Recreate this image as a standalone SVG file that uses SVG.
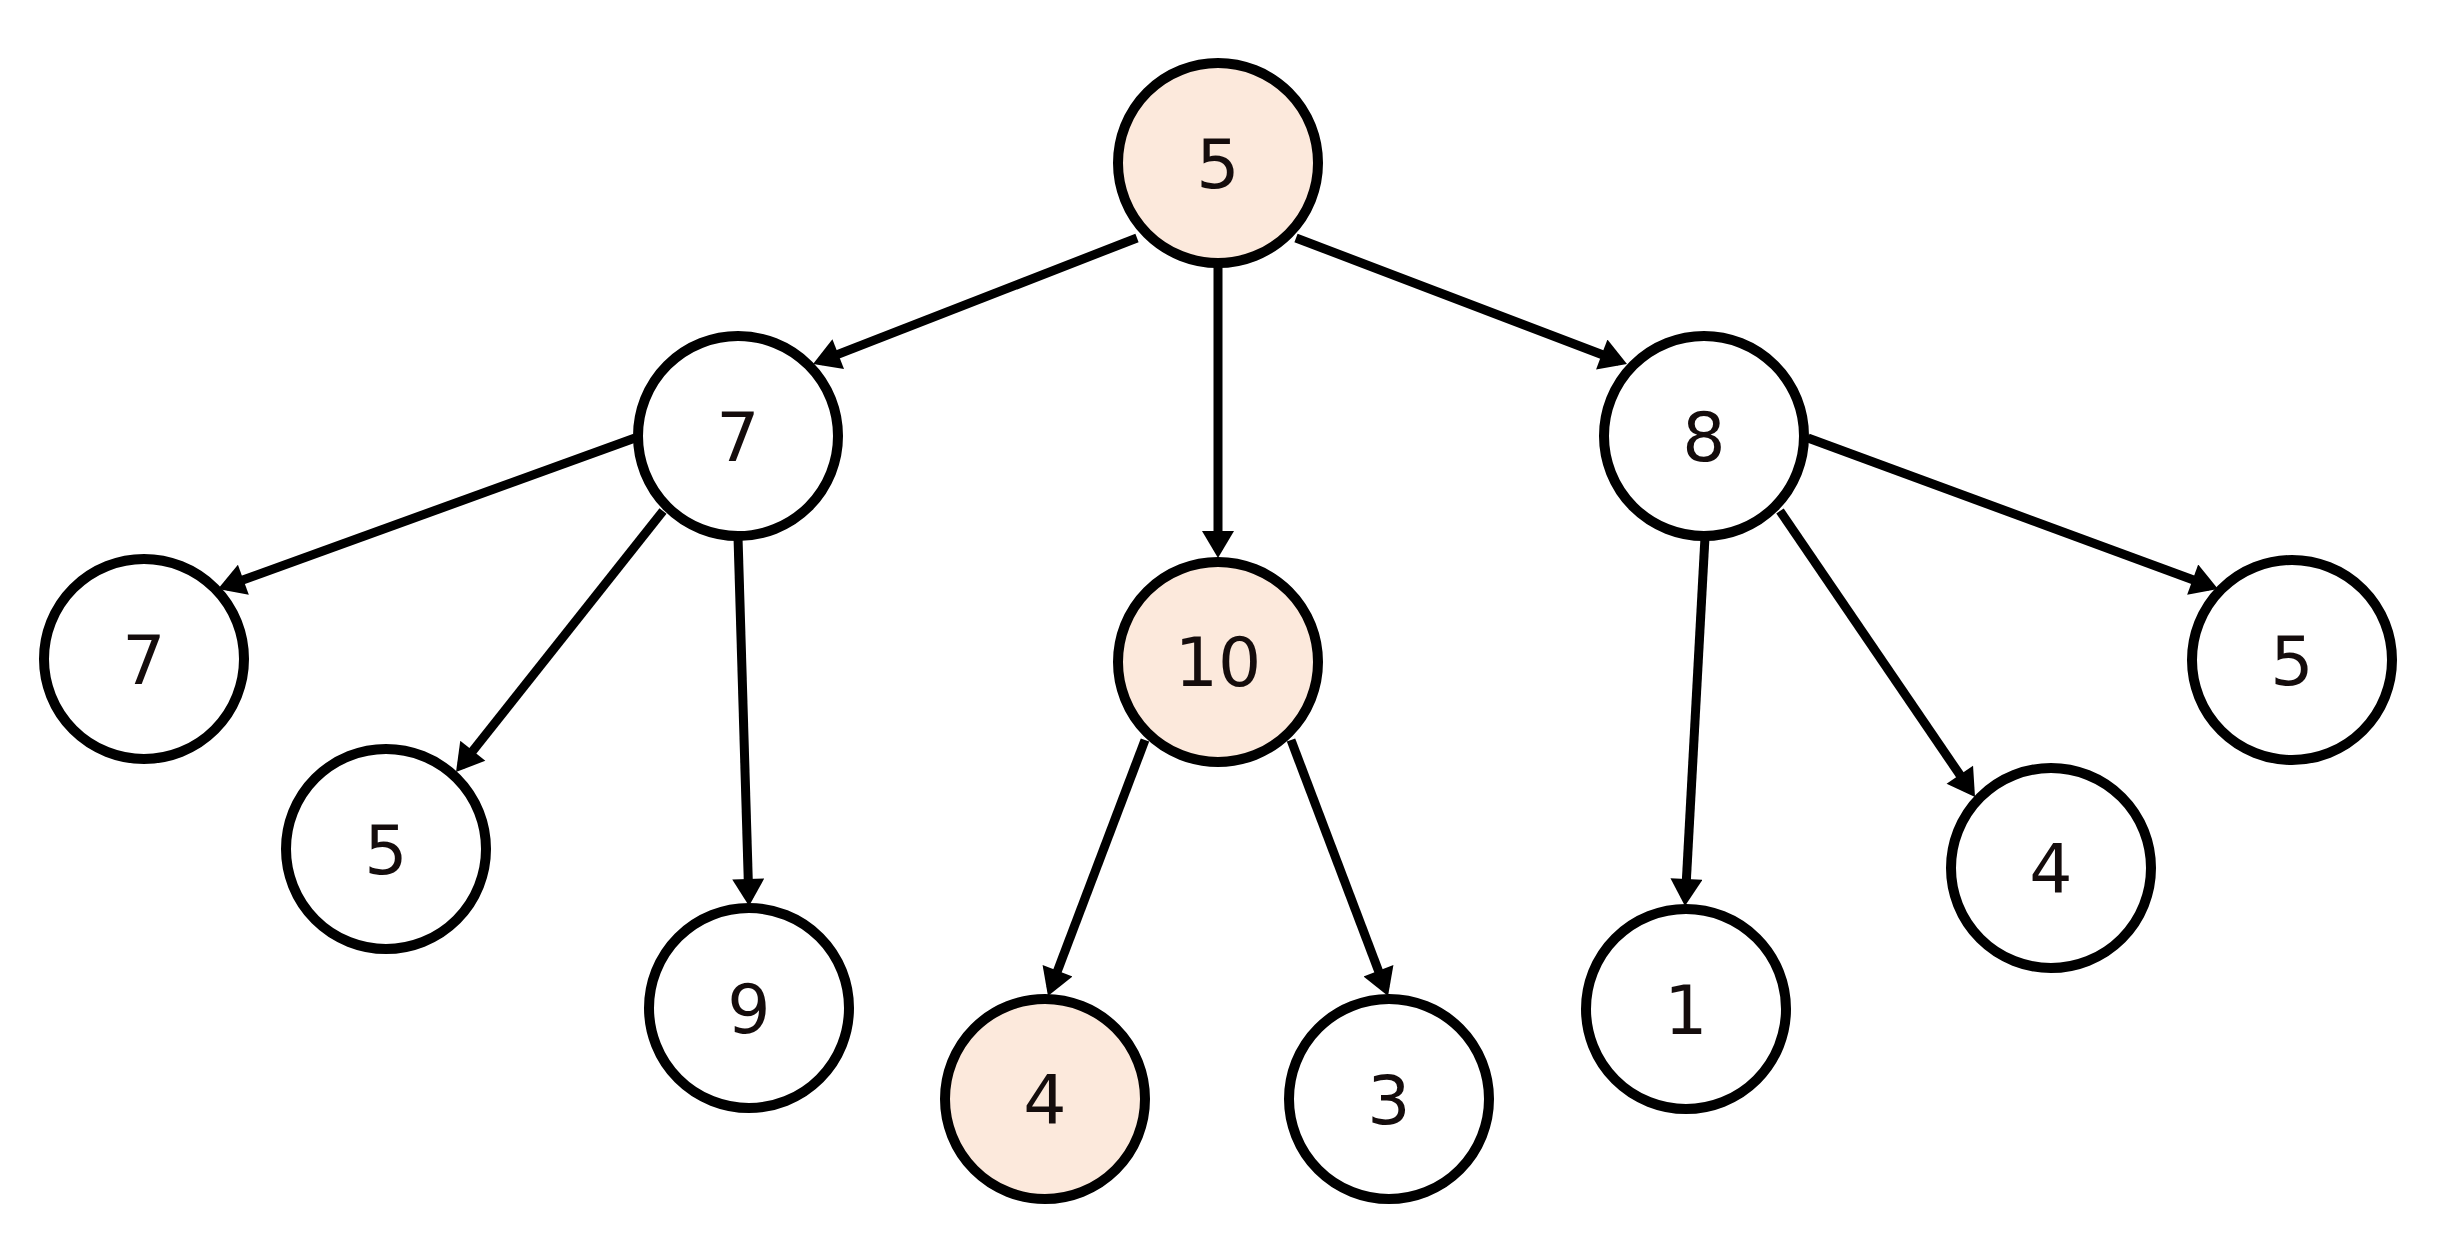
<svg xmlns="http://www.w3.org/2000/svg" width="2442" height="1234" viewBox="0 0 2442 1234">
<style>
.n circle{stroke:#000;stroke-width:10;fill:#fff}
.n.hl circle{fill:#fce9dc}
.n text{font-family:"DejaVu Sans","Open Sans","Liberation Sans",sans-serif;font-size:68px;fill:#140c0c;text-anchor:middle}
#edges line{stroke:#000;stroke-width:9;marker-end:url(#ah)}
</style>
<defs>
<marker id="ah" markerUnits="userSpaceOnUse" markerWidth="32" markerHeight="32" viewBox="0 0 28 32" refX="19" refY="16" orient="auto">
<path d="M0,0 L27,16 L0,32 z" fill="#000"/>
</marker>
</defs>
<rect width="2442" height="1234" fill="#fff"/>
<g id="edges">
<line x1="1137" y1="238" x2="820.5" y2="361.1"/>
<line x1="1218" y1="265" x2="1218" y2="550"/>
<line x1="1296" y1="238" x2="1619.5" y2="361.2"/>
<line x1="635" y1="438" x2="225.5" y2="586.3"/>
<line x1="663" y1="511" x2="461" y2="765.7"/>
<line x1="738" y1="537" x2="748.8" y2="898"/>
<line x1="1145" y1="740" x2="1050.8" y2="988.5"/>
<line x1="1291" y1="740" x2="1385.2" y2="988.5"/>
<line x1="1705" y1="537" x2="1685.4" y2="898"/>
<line x1="1780" y1="511" x2="1970.5" y2="790.4"/>
<line x1="1808" y1="438" x2="2210.5" y2="586.2"/>
</g>
<g id="n-root" class="n hl"><circle cx="1218" cy="163" r="100"/><text x="1218" y="188">5</text></g>
<g id="n-7a" class="n"><circle cx="738" cy="436" r="100"/><text x="738" y="461">7</text></g>
<g id="n-10" class="n hl"><circle cx="1218" cy="662" r="100"/><text x="1218" y="686">10</text></g>
<g id="n-8" class="n"><circle cx="1704" cy="436" r="100"/><text x="1704" y="461">8</text></g>
<g id="n-7b" class="n"><circle cx="144" cy="659" r="100"/><text x="144" y="684">7</text></g>
<g id="n-5a" class="n"><circle cx="386" cy="849" r="100"/><text x="386" y="874">5</text></g>
<g id="n-9" class="n"><circle cx="749" cy="1008" r="100"/><text x="749" y="1033">9</text></g>
<g id="n-4a" class="n hl"><circle cx="1045" cy="1099" r="100"/><text x="1045" y="1124">4</text></g>
<g id="n-3" class="n"><circle cx="1389" cy="1099" r="100"/><text x="1389" y="1124">3</text></g>
<g id="n-1" class="n"><circle cx="1686" cy="1009" r="100"/><text x="1686" y="1034">1</text></g>
<g id="n-4b" class="n"><circle cx="2051" cy="868" r="100"/><text x="2051" y="893">4</text></g>
<g id="n-5b" class="n"><circle cx="2292" cy="660" r="100"/><text x="2292" y="685">5</text></g>
</svg>
